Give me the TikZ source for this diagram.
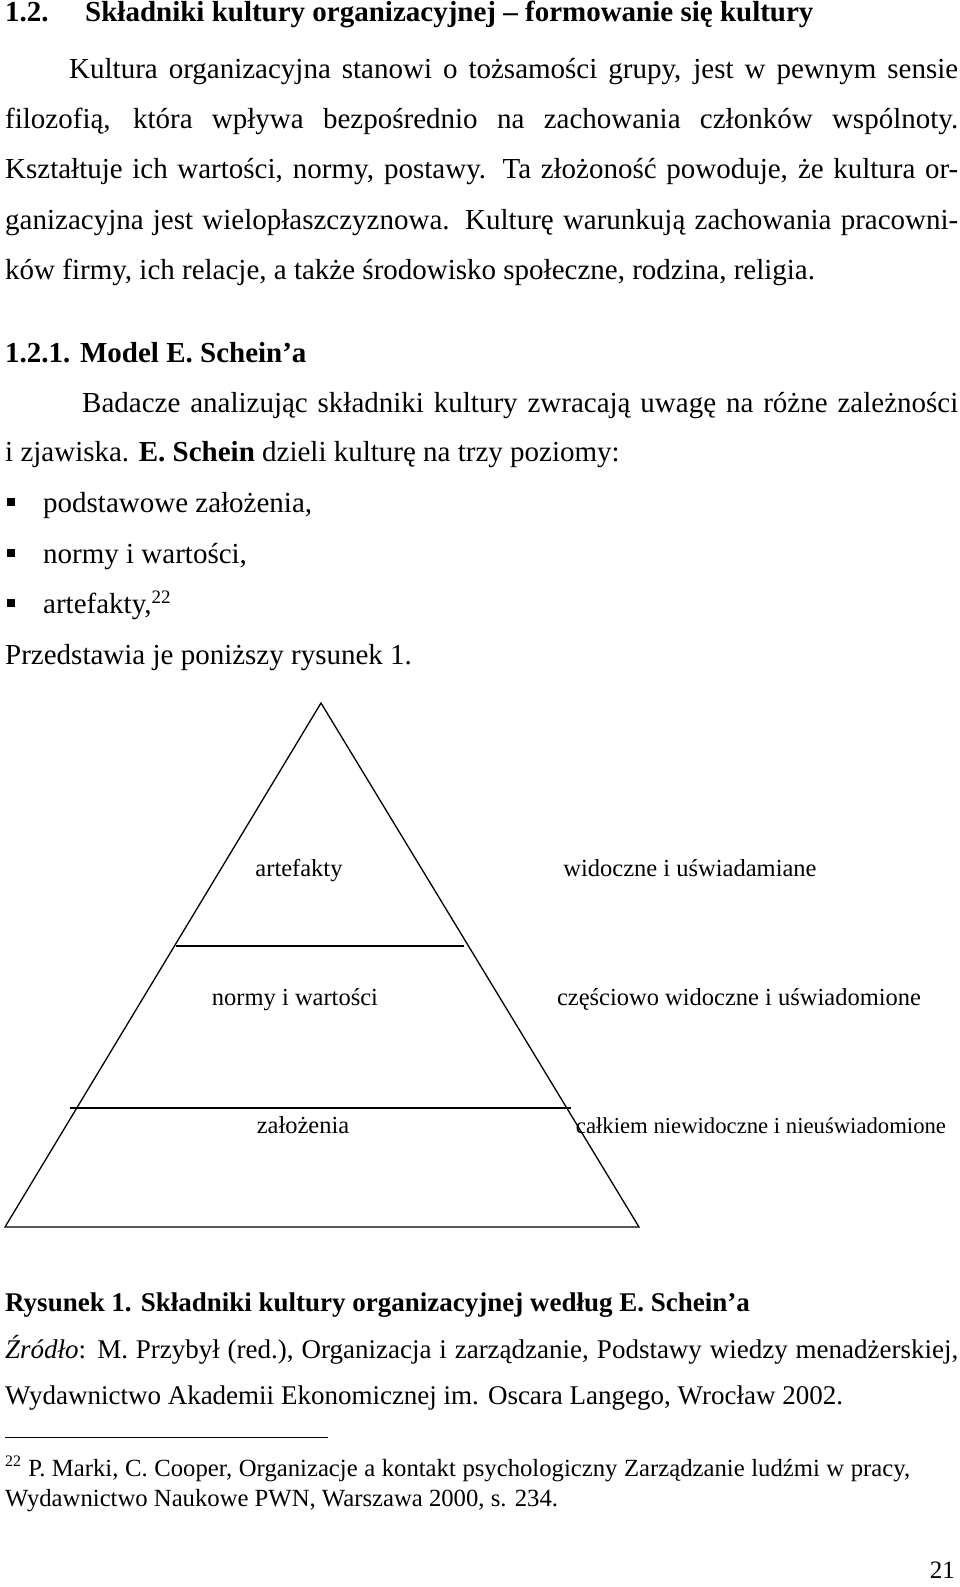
\documentclass[tikz,border=0pt]{standalone}
\usepackage{fontspec}
\setmainfont{Liberation Serif}
\newcommand{\jl}[2]{\makebox[#1][s]{#2}}
\begin{document}
\begin{tikzpicture}[x=1pt,y=-1pt,
  txt/.style={anchor=base west,inner sep=0pt,font=\fontsize{29}{34}\selectfont},
  small/.style={anchor=base,inner sep=0pt,font=\fontsize{24.5}{28}\selectfont},
  bul/.style={fill=black,minimum size=8pt,inner sep=0pt}]
\node[txt,font=\fontsize{29}{34}\selectfont\bfseries] (h1) at (5,22) {1.2.};
\node[txt,font=\fontsize{29}{34}\selectfont\bfseries] (h2) at (85,22) {Składniki kultury organizacyjnej – formowanie się kultury};
\node[txt] (p1) at (69,78) {\jl{889pt}{Kultura organizacyjna stanowi o tożsamości grupy, jest w pewnym sensie}};
\node[txt] (p2) at (5,128) {\jl{953pt}{filozofią, która wpływa bezpośrednio na zachowania członków wspólnoty.}};
\node[txt] (p3) at (5,178) {\jl{953pt}{Kształtuje ich wartości, normy, postawy. Ta złożoność powoduje, że kultura or-}};
\node[txt] (p4) at (5,229) {\jl{953pt}{ganizacyjna jest wielopłaszczyznowa. Kulturę warunkują zachowania pracowni-}};
\node[txt] (p5) at (5,279) {ków firmy, ich relacje, a także środowisko społeczne, rodzina, religia.};
\node[txt,font=\fontsize{29}{34}\selectfont\bfseries] (h3) at (5,362) {1.2.1. Model E. Schein’a};
\node[txt] (q1) at (82,412) {\jl{876pt}{Badacze analizując składniki kultury zwracają uwagę na różne zależności}};
\node[txt] (q2) at (5,461) {i zjawiska. \textbf{E. Schein} dzieli kulturę na trzy poziomy:};
\node[bul] (b1) at (11,502) {};
\node[bul] (b2) at (11,553) {};
\node[bul] (b3) at (11,603) {};
\node[txt] (l1) at (43,512) {podstawowe założenia,};
\node[txt] (l2) at (43,563) {normy i wartości,};
\node[txt] (l3) at (43,613) {artefakty,\textsuperscript{\fontsize{19}{22}\selectfont 22}};
\node[txt] (q3) at (5,664) {Przedstawia je poniższy rysunek 1.};
% pyramid
\coordinate (A) at (321,703);
\coordinate (L) at (5,1227);
\coordinate (R) at (639,1227);
\draw[line width=1.3pt,line join=miter] (A) -- (R) -- (L) -- cycle;
\coordinate (s1a) at (176,946); \coordinate (s1b) at (464,946);
\coordinate (s2a) at (70,1108); \coordinate (s2b) at (571,1108);
\draw[line width=1.3pt] (s1a) -- (s1b);
\draw[line width=1.3pt] (s2a) -- (s2b);
\node[small] (t1) at (299,876) {artefakty};
\node[small] (t2) at (690,876) {widoczne i uświadamiane};
\node[small] (t3) at (295,1005) {normy i wartości};
\node[small] (t4) at (739,1005) {częściowo widoczne i uświadomione};
\node[small] (t5) at (303,1133) {założenia};
\node[small,font=\fontsize{22.7}{26}\selectfont] (t6) at (761,1133) {całkiem niewidoczne i nieuświadomione};
% caption
\node[txt,font=\fontsize{27}{31}\selectfont\bfseries] (c1) at (5,1311) {Rysunek 1. Składniki kultury organizacyjnej według E. Schein'a};
\node[txt,font=\fontsize{27}{31}\selectfont] (c2) at (5,1358) {\jl{953pt}{\textit{Źródło}: M. Przybył (red.), Organizacja i zarządzanie, Podstawy wiedzy menadżerskiej,}};
\node[txt,font=\fontsize{27}{31}\selectfont] (c3) at (5,1404) {Wydawnictwo Akademii Ekonomicznej im. Oscara Langego, Wrocław 2002.};
\coordinate (r1) at (5,1437); \coordinate (r2) at (328,1437);
\draw[line width=1pt] (r1) -- (r2);
\node[txt,font=\fontsize{24.7}{28}\selectfont] (f1) at (5,1476) {\jl{905pt}{\textsuperscript{\fontsize{16}{18}\selectfont 22} P. Marki, C. Cooper, Organizacje a kontakt psychologiczny Zarządzanie ludźmi w pracy,}};
\node[txt,font=\fontsize{24.7}{28}\selectfont] (f2) at (5,1506) {Wydawnictwo Naukowe PWN, Warszawa 2000, s. 234.};
\node[anchor=base east,inner sep=0pt,font=\fontsize{25}{28}\selectfont] (pg) at (955,1578) {21};
\pgfresetboundingbox
\useasboundingbox (0,0) rectangle (960,1587);
\end{tikzpicture}
\end{document}
